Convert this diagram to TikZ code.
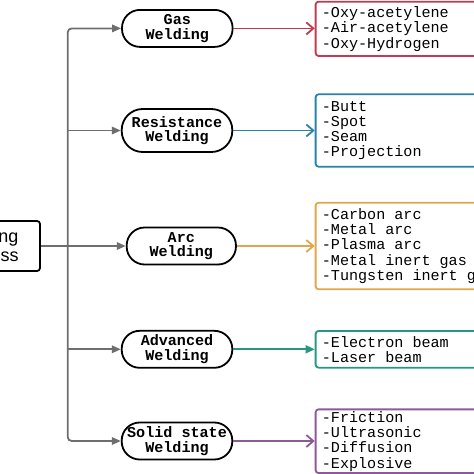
\documentclass[tikz,border=0pt]{standalone}
\usepackage{fontspec}
\usetikzlibrary{arrows.meta}
\newfontfamily\monofam{Liberation Mono}
\newfontfamily\rootfam{Liberation Sans}
\definecolor{wred}{RGB}{190,60,80}
\definecolor{wblue}{RGB}{40,130,170}
\definecolor{worange}{RGB}{225,165,75}
\definecolor{wteal}{RGB}{40,150,130}
\definecolor{wpurple}{RGB}{140,90,150}
\definecolor{wgray}{RGB}{110,110,110}
\tikzset{
  rootbox/.style={draw=black, line width=1.8pt, rounded corners=3pt, minimum width=108pt, minimum height=50pt,
    align=center, inner sep=0pt, font=\rootfam\fontsize{18}{19}\selectfont},
  oval/.style={draw=black, line width=1.8pt, rounded corners=18pt, text width=110.6pt, inner xsep=0pt, inner ysep=0pt,
    minimum height=37pt, align=center, font=\monofam\bfseries\fontsize{15.1}{14.5}\selectfont,
    execute at begin node={\spaceskip=9.06pt\relax\xspaceskip=9.06pt\relax}},
  listbox/.style={draw=#1, line width=1.8pt, rounded corners=3pt, anchor=west, text width=190pt, inner xsep=6.3pt,
    inner ysep=0pt, align=left, font=\monofam\fontsize{15.1}{15.3}\selectfont,
    execute at begin node={\spaceskip=9.06pt\relax\xspaceskip=9.06pt\relax}},
  conn/.style={draw=wgray, line width=1.8pt, -{Triangle[length=9pt,width=7.5pt]}},
  barb/.style={draw=#1, line width=1.8pt, -{Straight Barb[length=7pt,width=12pt]}},
  tri/.style={draw=#1, fill=#1, line width=1.8pt, -{Triangle[length=9pt,width=8pt]}},
}
\begin{document}
\begin{tikzpicture}[x=1pt,y=-1pt]
\useasboundingbox (0,0) rectangle (474,474);
\clip (0,0) rectangle (474,474);
\node[rootbox] (root) at (-14,246) {Welding\\Process};
\node[oval] (gas) at (177.3,28.4) {Gas\\Welding};
\node[oval, minimum height=43pt, rounded corners=21pt] (res) at (177,130.5) {Resistance\\Welding};
\node[oval, text width=109.3pt] (arc) at (181.3,246) {Arc\\Welding};
\node[oval] (adv) at (177,349.3) {Advanced\\Welding};
\node[oval] (solid) at (177,441) {Solid state\\Welding};
\node[listbox=wred, minimum height=54.3pt] (gasl) at (314.7,28.8) {-Oxy-acetylene\\-Air-acetylene\\-Oxy-Hydrogen};
\node[listbox=wblue, minimum height=72.4pt] (resl) at (314.7,130.5) {-Butt\\-Spot\\-Seam\\-Projection};
\node[listbox=worange, minimum height=86.6pt] (arcl) at (314.7,246) {-Carbon arc\\-Metal arc\\-Plasma arc\\-Metal inert gas\\-Tungsten inert gas};
\node[listbox=wteal, minimum height=36.7pt] (advl) at (314.7,349.3) {-Electron beam\\-Laser beam};
\node[listbox=wpurple, minimum height=63.7pt] (solidl) at (314.7,441.2) {-Friction\\-Ultrasonic\\-Diffusion\\-Explosive};
\coordinate (jt) at (67.7,246);
\draw[conn] (root.east) -- (arc.west);
\draw[conn, rounded corners=4pt] (jt) |- (gas.west);
\draw[conn, rounded corners=4pt] (jt) |- (solid.west);
\draw[conn] (jt |- res.west) -- (res.west);
\draw[conn] (jt |- adv.west) -- (adv.west);
\draw[barb=wred] (gas.east) -- (gas.east -| gasl.west);
\draw[barb=wblue] (res.east) -- (res.east -| resl.west);
\draw[barb=worange] (arc.east) -- (arc.east -| arcl.west);
\draw[tri=wteal] (adv.east) -- (adv.east -| advl.west);
\draw[barb=wpurple] (solid.east) -- (solid.east -| solidl.west);
\end{tikzpicture}
\end{document}
